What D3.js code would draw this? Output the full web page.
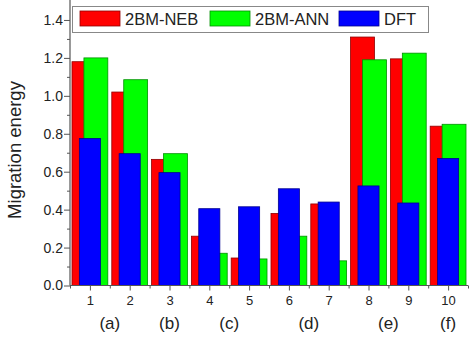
<!DOCTYPE html>
<html><head><meta charset="utf-8">
<script src="https://cdn.jsdelivr.net/npm/d3@7"></script>
<style>body{margin:0;background:#fff}svg{display:block}</style>
</head><body>
<svg id="c" width="474" height="347"></svg>
<script>
const categories = [1,2,3,4,5,6,7,8,9,10];
const neb = [1.18,1.02,0.665,0.26,0.145,0.38,0.43,1.31,1.195,0.84];
const ann = [1.20,1.085,0.695,0.17,0.14,0.26,0.13,1.19,1.225,0.85];
const dft = [0.775,0.695,0.595,0.405,0.415,0.51,0.44,0.525,0.435,0.67];
const groupLabels = ["(a)","(b)","(c)","(d)","(e)","(f)"];
const groupPos = [1.5,3,4.5,6.5,8.5,10];
const yTicks = [0,0.2,0.4,0.6,0.8,1.0,1.2,1.4];
const seriesNames = ["2BM-NEB","2BM-ANN","DFT"];
const colors = ["#ff0000","#00ff00","#0000ff"];

const svg = d3.select("#c");
const font = "'Liberation Sans', Arial, sans-serif";
const x = d3.scaleLinear().domain([0.5,10.5]).range([70,468]);
const y = d3.scaleLinear().domain([0,1.5]).range([285.5,1]);

const series = [
  {vals: neb, lo: -0.45, hi: 0.15, c: colors[0]},
  {vals: ann, lo: -0.15, hi: 0.45, c: colors[1]},
  {vals: dft, lo: -0.265, hi: 0.265, c: colors[2]}
];
series.forEach(s => {
  svg.append("g").selectAll("rect").data(categories).join("rect")
    .attr("x", (d) => x(d + s.lo))
    .attr("width", (d) => x(d + s.hi) - x(d + s.lo))
    .attr("y", (d,i) => y(s.vals[i]))
    .attr("height", (d,i) => y(0) - y(s.vals[i]))
    .attr("fill", s.c)
    .attr("stroke", d3.color(s.c).darker(1.6))
    .attr("stroke-width", 0.8);
});

const axisColor = "#555";
const ya = svg.append("g").attr("transform","translate(70,0)")
  .call(d3.axisLeft(y).tickValues(yTicks).tickFormat(d3.format(".1f")).tickSize(6).tickSizeOuter(0));
ya.select(".domain").remove();
ya.selectAll("line").attr("stroke", axisColor);
ya.selectAll("text").attr("font-family", font).attr("font-size", 14).attr("fill","#222").attr("x",-7);
const ym = svg.append("g").attr("transform","translate(70,0)")
  .call(d3.axisLeft(y).tickValues([0.1,0.3,0.5,0.7,0.9,1.1,1.3]).tickFormat("").tickSize(3));
ym.select(".domain").remove();
ym.selectAll("line").attr("stroke", axisColor);
svg.append("line").attr("x1",70).attr("x2",70).attr("y1",0).attr("y2",y(0)).attr("stroke",axisColor).attr("stroke-width",1.2);

const xa = svg.append("g").attr("transform",`translate(0,${y(0)})`)
  .call(d3.axisBottom(x).tickValues(categories).tickFormat(d3.format("d")).tickSize(5).tickSizeOuter(0));
xa.select(".domain").remove();
xa.selectAll("line").attr("stroke", axisColor);
xa.selectAll("text").attr("font-family", font).attr("font-size", 13).attr("fill","#222").attr("dy","0.95em").attr("y",7);
const xm = svg.append("g").attr("transform",`translate(0,${y(0)})`)
  .call(d3.axisBottom(x).tickValues(d3.range(0.5,11,1)).tickFormat("").tickSize(3));
xm.select(".domain").remove();
xm.selectAll("line").attr("stroke", axisColor);
svg.append("line").attr("x1",70).attr("x2",468).attr("y1",y(0)).attr("y2",y(0)).attr("stroke",axisColor).attr("stroke-width",1.2);

svg.append("g").selectAll("text").data(groupLabels).join("text")
  .attr("x",(d,i)=>x(groupPos[i])).attr("y",329)
  .attr("text-anchor","middle").attr("font-family",font).attr("font-size",17).attr("fill","#222")
  .text(d=>d);

svg.append("text").attr("transform","translate(21,150) rotate(-90)")
  .attr("text-anchor","middle").attr("font-family",font).attr("font-size",18.5).attr("fill","#222")
  .text("Migration energy");

const lg = svg.append("g");
lg.append("rect").attr("x",72.5).attr("y",6.5).attr("width",356).attr("height",26)
  .attr("fill","#fff").attr("stroke","#888").attr("stroke-width",1);
const lx = [80,210,339];
seriesNames.forEach((n,i) => {
  lg.append("rect").attr("x",lx[i]).attr("y",11).attr("width",40).attr("height",15)
    .attr("fill",colors[i]).attr("stroke",d3.color(colors[i]).darker(1.6)).attr("stroke-width",0.8);
  lg.append("text").attr("x",lx[i]+45).attr("y",24.5).attr("font-family",font).attr("font-size",16.5).attr("fill","#222").text(n);
});
</script>
</body></html>
